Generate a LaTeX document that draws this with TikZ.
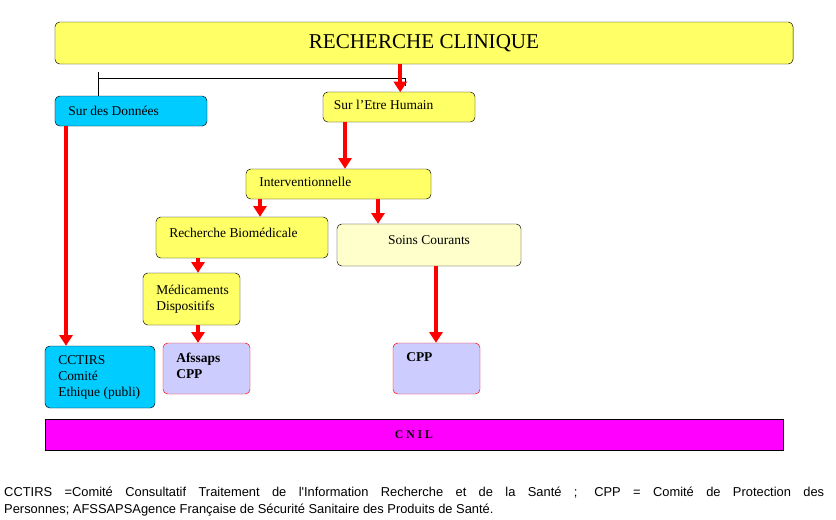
\documentclass[tikz,border=0pt]{standalone}
\usepackage{fontspec}
\setmainfont{Liberation Serif}
\newfontfamily\notefont{Liberation Sans}
\usetikzlibrary{arrows.meta}
\definecolor{Boxyellow}{HTML}{FFFF66}
\definecolor{Boxpale}{HTML}{FFFFCC}
\definecolor{Boxcyan}{HTML}{00CCFF}
\definecolor{Boxlilac}{HTML}{CCCCFF}
\definecolor{Boxmagenta}{HTML}{FF00FF}
\tikzset{
    box/.style = {draw, rounded corners=4pt, inner sep=0pt},
    label/.style = {font=\fontsize{11.5}{13.5}\selectfont},
    boldlabel/.style = {font=\bfseries\fontsize{11.5}{13.5}\selectfont},
    redarrow/.style = {red, line width=3pt, -{Triangle[width=11pt,length=9pt]}}
}
\newcommand{\boxat}[6]{% name, x1, y1, x2, y2, style
    \node[box, #6, minimum width={(#4-#2)*0.3mm}, minimum height={(#5-#3)*0.3mm}]
        (#1) at ({(#2+#4)/2*0.03}, {-(#3+#5)/2*0.03}) {};}
\begin{document}
\begin{tikzpicture}
    \useasboundingbox (0,0) rectangle (836*0.03,-519*0.03);
    % Boxes
    \boxat{title}{55}{22}{793}{64}{fill=Boxyellow}
    \node[font=\fontsize{18}{21}\selectfont] at (title) {RECHERCHE CLINIQUE};
    \boxat{donnees}{55}{96}{207}{126}{fill=Boxcyan}
    \node[label, anchor=west] at ([xshift=8pt]donnees.west) {Sur des Données};
    \boxat{humain}{323}{92}{475}{122}{fill=Boxyellow}
    \node[label, anchor=west] at ([xshift=6pt,yshift=2pt]humain.west) {Sur l'Etre Humain};
    \boxat{interv}{246}{169}{431}{199}{fill=Boxyellow}
    \node[label, anchor=west] at ([xshift=8pt,yshift=2pt]interv.west) {Interventionnelle};
    \boxat{biomed}{156}{217}{328}{258}{fill=Boxyellow}
    \node[label, anchor=west] at ([xshift=8pt,yshift=4pt]biomed.west) {Recherche Biomédicale};
    \boxat{soins}{337}{224}{521}{266}{fill=Boxpale}
    \node[label] at ([yshift=4pt]soins.center) {Soins Courants};
    \boxat{medic}{143}{273}{240}{325}{fill=Boxyellow}
    \node[label, anchor=west, align=left] at ([xshift=8pt]medic.west) {Médicaments\\Dispositifs};
    \boxat{cctirs}{45}{346}{155}{408}{fill=Boxcyan}
    \node[label, anchor=north west, align=left] at ([xshift=8pt,yshift=-5pt]cctirs.north west) {CCTIRS\\Comité\\Ethique (publi)};
    \boxat{afssaps}{163}{343}{250}{394}{fill=Boxlilac, draw=red}
    \node[boldlabel, anchor=north west, align=left] at ([xshift=8pt,yshift=-5pt]afssaps.north west) {Afssaps\\CPP};
    \boxat{cpp}{393}{343}{480}{394}{fill=Boxlilac, draw=red}
    \node[boldlabel, anchor=north west] at ([xshift=8pt,yshift=-5pt]cpp.north west) {CPP};
    \node[draw, fill=Boxmagenta, inner sep=0pt, minimum width=738*0.3mm, minimum height=31*0.3mm,
        font=\bfseries\fontsize{10}{12}\selectfont] (cnil) at (414*0.03,-434.5*0.03) {C N I L};
    % Black connector
    \coordinate (split) at (405*0.03,-78*0.03);
    \draw (donnees.north -| 98*0.03,0) -- (98*0.03,-72*0.03);
    \draw (98*0.03,-78*0.03) -- (split) -- ++(0,-0.25);
    % Red arrows
    \draw[redarrow] (title.south -| humain.north east) ++(-75*0.03,0) -- ++(0,-28*0.03);
    \draw[redarrow] (humain.south -| 345*0.03,0) -- (interv.north -| 345*0.03,0);
    \draw[redarrow] (interv.south -| 260*0.03,0) -- (biomed.north -| 260*0.03,0);
    \draw[redarrow] (interv.south -| 378*0.03,0) -- (soins.north -| 378*0.03,0);
    \draw[redarrow] (biomed.south -| 198*0.03,0) -- (medic.north -| 198*0.03,0);
    \draw[redarrow] (medic.south -| 198*0.03,0) -- (afssaps.north -| 198*0.03,0);
    \draw[redarrow] (soins.south -| 436*0.03,0) -- (cpp.north -| 436*0.03,0);
    \draw[redarrow] (donnees.south -| 66*0.03,0) -- (cctirs.north -| 66*0.03,0);
    % Note
    \node[anchor=north west, inner sep=0pt, text width=820*0.03cm, align=justify,
        font=\notefont\fontsize{11}{14}\selectfont] (note) at (4*0.03,-487*0.03)
        {CCTIRS =Comité Consultatif Traitement de l'Information Recherche et de la Santé ; CPP = Comité de Protection des\linebreak Personnes; AFSSAPSAgence Française de Sécurité Sanitaire des Produits de Santé.};
\end{tikzpicture}
\end{document}
